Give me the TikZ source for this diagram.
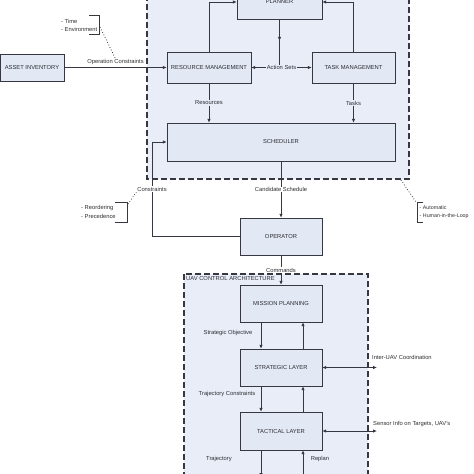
\documentclass[tikz,border=0pt]{standalone}
\usepackage{fontspec}
\setmainfont{Liberation Sans}
\usetikzlibrary{arrows.meta, positioning, decorations.markings}
\definecolor{uavfill}{RGB}{226,232,244}
\definecolor{uavregion}{RGB}{232,237,248}
\definecolor{uavline}{RGB}{55,55,65}
\definecolor{uavtext}{RGB}{45,45,50}

\tikzset{
  >={Latex[length=4pt,width=3.5pt]},
  block/.style={draw=uavline, fill=uavfill, minimum width=82pt, minimum height=37pt, inner sep=0pt},
  flow/.style={draw=uavline, line width=0.9pt, ->},
  dflow/.style={draw=uavline, line width=0.9pt, <->},
  midflow/.style={draw=uavline, line width=0.9pt, postaction={decorate},
    decoration={markings, mark=at position 0.45 with {\arrow{>}}}},
  region/.style={draw=uavline, fill=uavregion, line width=1.2pt, dash pattern=on 6pt off 3pt},
  lbl/.style={fill=#1, inner sep=0.8pt}, lbl/.default=white,
  note/.style={anchor=west, inner sep=0pt},
  brace/.style={draw=uavline, line width=0.8pt},
  hint/.style={draw=uavline, dotted, line width=0.8pt}
}

\begin{document}
\begin{tikzpicture}[x=1pt, y=-1pt, every node/.style={font=\fontsize{5.8}{6.8}\selectfont, text=uavtext}]
  \useasboundingbox (0,0) rectangle (474,474);

  % Planning regions
  \draw[region] (147,-5) rectangle (409,179);
  \draw[region] (184,274) rectangle (368,490);
  \node[anchor=north west, inner sep=1pt] (uavtitle) at (185,275.5) {UAV CONTROL ARCHITECTURE};

  % Top level
  \node[block, minimum width=85pt, minimum height=34pt] (planner) at (279.5,2) {PLANNER};
  \node[block, minimum width=64pt, minimum height=27pt] (asset) at (32,67.5) {ASSET INVENTORY};
  \node[block, minimum width=84pt, minimum height=31pt] (rm) at (209,67.5) {RESOURCE MANAGEMENT};
  \node[block, minimum width=83pt, minimum height=31pt] (tm) at (353.5,67.5) {TASK MANAGEMENT};
  \node[block, minimum width=228pt, minimum height=38pt] (sched) at (281,142) {SCHEDULER};
  \node[block] (operator) at (281,236.5) {OPERATOR};

  % UAV control layers
  \node[block] (mp) at (281,303.5) {MISSION PLANNING};
  \node[block] (sl) at (281,367.5) {STRATEGIC LAYER};
  \node[block, minimum height=38pt] (tl) at (281,431) {TACTICAL LAYER};

  % Planner loop
  \draw[flow] (rm.north) |- (planner.west);
  \draw[flow] (tm.north) |- (planner.east);
  \coordinate (asjoin) at (planner.south |- rm.east);
  \draw[midflow] (planner.south) -- (asjoin);
  \draw[dflow] (rm.east) -- (tm.west) node[midway, lbl=uavregion] {Action Sets};
  \draw[flow] (asset.east) -- (rm.west) node[midway, above=2.5pt, inner sep=0pt] (opcons) {Operation Constraints};
  \draw[flow] (rm.south) -- (rm.south |- sched.north) node[midway, lbl=uavregion] {Resources};
  \draw[flow] (tm.south) -- (tm.south |- sched.north) node[midway, lbl=uavregion] {Tasks};

  % Scheduler and operator
  \draw[flow] (sched.south) -- (operator.north) node[midway, lbl] {Candidate Schedule};
  \coordinate (consbend) at (152,142);
  \draw[flow] (operator.west) -| (consbend) -- (sched.west);
  \node[lbl] (cons) at (152,189) {Constraints};
  \draw[flow] (operator.south) -- (mp.north) node[midway, lbl] {Commands};

  % Layer links
  \draw[flow] ([xshift=-20pt]mp.south) -- ([xshift=-20pt]sl.north);
  \draw[flow] ([xshift=22pt]sl.north) -- ([xshift=22pt]mp.south);
  \node (stratobj) at (228,333) {Strategic Objective};
  \draw[flow] ([xshift=-20pt]sl.south) -- ([xshift=-20pt]tl.north);
  \draw[flow] ([xshift=22pt]tl.north) -- ([xshift=22pt]sl.south);
  \node (trajcons) at (227,394) {Trajectory Constraints};
  \coordinate (trajout) at (261,477);
  \coordinate (replanin) at (303,480);
  \draw[flow] ([xshift=-20pt]tl.south) -- (trajout);
  \draw[flow] (replanin) -- ([xshift=22pt]tl.south);
  \node (traj) at (219,459) {Trajectory};
  \node (replan) at (320,459) {Replan};

  % Outside links
  \coordinate (interuav) at (377,367.5);
  \coordinate (sensorinfo) at (377,431);
  \draw[dflow] (sl.east) -- (interuav);
  \draw[dflow] (tl.east) -- (sensorinfo);
  \node[note] (interlbl) at (372,357) {Inter-UAV Coordination};
  \node[note] (sensorlbl) at (373,424) {Sensor Info on Targets, UAV's};

  % Notes with brackets
  \node[note] (timenote) at (61,21) {- Time};
  \node[note] (envnote) at (61,29) {- Environment};
  \draw[brace] (89,15) -- (99,15) -- (99,34) -- (89,34);
  \coordinate (timebrace) at (100,27);
  \draw[hint] (timebrace) -- (opcons.north);

  \node[note] (reordnote) at (81,208) {- Reordering};
  \node[note] (precnote) at (81,216) {- Precedence};
  \draw[brace] (115,202) -- (127,202) -- (127,222) -- (115,222);
  \coordinate (reordbrace) at (128,204);
  \draw[hint] (reordbrace) -- (cons.south west);

  \node[note, font=\fontsize{5.3}{6.3}\selectfont] (autonote) at (419.5,208) {- Automatic};
  \node[note, font=\fontsize{5.3}{6.3}\selectfont] (hitlnote) at (419.5,216) {- Human-in-the-Loop};
  \draw[brace] (423,202) -- (417,202) -- (417,222) -- (423,222);
  \coordinate (regioncorner) at (401,180);
  \coordinate (autobrace) at (416,202);
  \draw[hint] (regioncorner) -- (autobrace);
\end{tikzpicture}
\end{document}
